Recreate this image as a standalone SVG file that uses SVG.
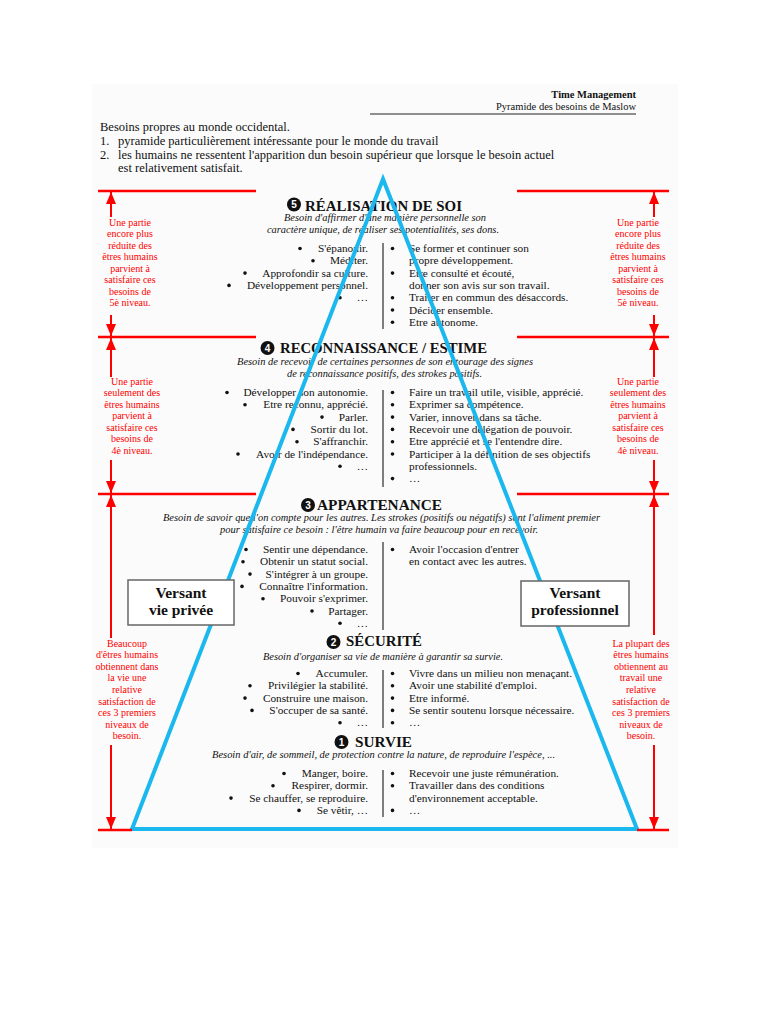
<svg xmlns="http://www.w3.org/2000/svg" width="768" height="1024" viewBox="0 0 768 1024">
<defs>
<marker id="ah" markerUnits="userSpaceOnUse" markerWidth="12" markerHeight="10" refX="12" refY="5" orient="auto">
<path d="M0,0 L12,5 L0,10 z" fill="#ff0000"/>
</marker>
<style>
text{font-family:"Liberation Serif","Times New Roman",serif;fill:#111}
.hd{font-size:10.5px;text-anchor:end}
.in{font-size:12.5px}
.it{font-size:11.3px}
.l{text-anchor:end}
.tt{font-size:14px;font-weight:bold}
.st{font-size:10px;font-style:italic;text-anchor:middle}
.num{font-family:"Liberation Sans",Arial,sans-serif;font-size:10px;font-weight:bold;fill:#fff;text-anchor:middle}
.rd{font-size:10px;fill:#ff0000;text-anchor:middle}
.vs{font-size:15.5px;font-weight:bold;text-anchor:middle}
.dv{stroke:#555;stroke-width:1.5}
.bl{fill:#111}
.rl{stroke:#ff0000;stroke-width:2.5;fill:none}
.ar{stroke:#ff0000;stroke-width:2;fill:none;marker-end:url(#ah)}
.box{fill:#fff;stroke:#666;stroke-width:1.5}
</style>
</defs>
<rect x="0" y="0" width="768" height="1024" fill="#ffffff"/>
<rect x="92" y="84" width="586" height="764" fill="#fbfbfb"/>

<g id="header">
<text class="hd" x="636" y="98" font-weight="bold">Time Management</text>
<text class="hd" x="636" y="110">Pyramide des besoins de Maslow</text>
<line x1="370" y1="114" x2="636" y2="114" stroke="#222" stroke-width="1.2"/>
<text class="in" x="100" y="131">Besoins propres au monde occidental.</text>
<text class="in" x="100" y="145">1.</text>
<text class="in" x="118" y="145">pyramide particulièrement intéressante pour le monde du travail</text>
<text class="in" x="100" y="159">2.</text>
<text class="in" x="118" y="159">les humains ne ressentent l'apparition dun besoin supérieur que lorsque le besoin actuel</text>
<text class="in" x="118" y="172">est relativement satisfait.</text>
</g>

<g id="level5">
<circle cx="294" cy="204.5" r="7" fill="#111"/>
<text class="num" x="294" y="208.2">5</text>
<text class="tt" x="305" y="211" textLength="157" lengthAdjust="spacingAndGlyphs">RÉALISATION DE SOI</text>
<text class="st" x="385" y="221" textLength="202" lengthAdjust="spacingAndGlyphs">Besoin d'affirmer d'une manière personnelle son</text>
<text class="st" x="383" y="233" textLength="232" lengthAdjust="spacingAndGlyphs">caractère unique, de réaliser ses potentialités, ses dons.</text>
<g class="it">
<text class="l" x="368" y="252">S'épanouir.</text>
<text class="l" x="368" y="264.3">Méditer.</text>
<text class="l" x="368" y="276.6">Approfondir sa culture.</text>
<text class="l" x="368" y="288.9">Développement personnel.</text>
<text class="l" x="368" y="301.2">…</text>
<text x="409" y="252">Se former et continuer son</text>
<text x="409" y="264.3">propre développement.</text>
<text x="409" y="276.6">Etre consulté et écouté,</text>
<text x="409" y="288.9">donner son avis sur son travail.</text>
<text x="409" y="301.2">Traiter en commun des désaccords.</text>
<text x="409" y="313.5">Décider ensemble.</text>
<text x="409" y="325.8">Etre autonome.</text>
</g>
<g class="bl">
<circle cx="300" cy="248.5" r="1.8"/><circle cx="313" cy="260.8" r="1.8"/><circle cx="245" cy="273.1" r="1.8"/><circle cx="229" cy="285.4" r="1.8"/><circle cx="340" cy="297.7" r="1.8"/>
<circle cx="392.5" cy="248.5" r="1.8"/><circle cx="392.5" cy="273.1" r="1.8"/><circle cx="392.5" cy="297.7" r="1.8"/><circle cx="392.5" cy="310" r="1.8"/><circle cx="392.5" cy="322.3" r="1.8"/>
</g>
<line class="dv" x1="383" y1="243" x2="383" y2="329"/>
</g>

<g id="level4">
<circle cx="267.5" cy="348" r="7" fill="#111"/>
<text class="num" x="267.5" y="351.7">4</text>
<text class="tt" x="280" y="353" textLength="207" lengthAdjust="spacingAndGlyphs">RECONNAISSANCE / ESTIME</text>
<text class="st" x="385" y="365" textLength="296" lengthAdjust="spacingAndGlyphs">Besoin de recevoir de certaines personnes de son entourage des signes</text>
<text class="st" x="384.5" y="377" textLength="195" lengthAdjust="spacingAndGlyphs">de reconnaissance positifs, des strokes positifs.</text>
<g class="it">
<text class="l" x="368" y="396">Développer son autonomie.</text>
<text class="l" x="368" y="408.3">Etre reconnu, apprécié.</text>
<text class="l" x="368" y="420.6">Parler.</text>
<text class="l" x="368" y="432.9">Sortir du lot.</text>
<text class="l" x="368" y="445.2">S'affranchir.</text>
<text class="l" x="368" y="457.5">Avoir de l'indépendance.</text>
<text class="l" x="368" y="469.8">…</text>
<text x="409" y="396">Faire un travail utile, visible, apprécié.</text>
<text x="409" y="408.3">Exprimer sa compétence.</text>
<text x="409" y="420.6">Varier, innover dans sa tâche.</text>
<text x="409" y="432.9">Recevoir une délégation de pouvoir.</text>
<text x="409" y="445.2">Etre apprécié et se l'entendre dire.</text>
<text x="409" y="457.5">Participer à la définition de ses objectifs</text>
<text x="409" y="469.8">professionnels.</text>
<text x="409" y="482.1">…</text>
</g>
<g class="bl">
<circle cx="227" cy="392.5" r="1.8"/><circle cx="245" cy="404.8" r="1.8"/><circle cx="322" cy="417.1" r="1.8"/><circle cx="293" cy="429.4" r="1.8"/><circle cx="297" cy="441.7" r="1.8"/><circle cx="238" cy="454" r="1.8"/><circle cx="340" cy="466.3" r="1.8"/>
<circle cx="392.5" cy="392.5" r="1.8"/><circle cx="392.5" cy="404.8" r="1.8"/><circle cx="392.5" cy="417.1" r="1.8"/><circle cx="392.5" cy="429.4" r="1.8"/><circle cx="392.5" cy="441.7" r="1.8"/><circle cx="392.5" cy="454" r="1.8"/><circle cx="392.5" cy="478.6" r="1.8"/>
</g>
<line class="dv" x1="383" y1="390" x2="383" y2="487"/>
</g>

<g id="level3">
<circle cx="308" cy="505" r="7" fill="#111"/>
<text class="num" x="308" y="508.7">3</text>
<text class="tt" x="317" y="510" textLength="125" lengthAdjust="spacingAndGlyphs">APPARTENANCE</text>
<text class="st" x="381.5" y="521" textLength="437" lengthAdjust="spacingAndGlyphs">Besoin de savoir que l'on compte pour les autres. Les strokes (positifs ou négatifs) sont l'aliment premier</text>
<text class="st" x="379" y="533" textLength="318" lengthAdjust="spacingAndGlyphs">pour satisfaire ce besoin : l'être humain va faire beaucoup pour en recevoir.</text>
<g class="it">
<text class="l" x="368" y="553">Sentir une dépendance.</text>
<text class="l" x="368" y="565.3">Obtenir un statut social.</text>
<text class="l" x="368" y="577.6">S'intégrer à un groupe.</text>
<text class="l" x="368" y="589.9">Connaître l'information.</text>
<text class="l" x="368" y="602.2">Pouvoir s'exprimer.</text>
<text class="l" x="368" y="614.5">Partager.</text>
<text class="l" x="368" y="626.8">…</text>
<text x="409" y="553">Avoir l'occasion d'entrer</text>
<text x="409" y="565.3">en contact avec les autres.</text>
</g>
<g class="bl">
<circle cx="246" cy="549.5" r="1.8"/><circle cx="243" cy="561.8" r="1.8"/><circle cx="250" cy="574.1" r="1.8"/><circle cx="242" cy="586.4" r="1.8"/><circle cx="263" cy="598.7" r="1.8"/><circle cx="312" cy="611" r="1.8"/><circle cx="340" cy="623.3" r="1.8"/>
<circle cx="392.5" cy="549.5" r="1.8"/>
</g>
<line class="dv" x1="383" y1="542" x2="383" y2="630"/>
</g>

<g id="level2">
<circle cx="333.5" cy="642" r="7" fill="#111"/>
<text class="num" x="333.5" y="645.7">2</text>
<text class="tt" x="346" y="646" textLength="76" lengthAdjust="spacingAndGlyphs">SÉCURITÉ</text>
<text class="st" x="383" y="660" textLength="240" lengthAdjust="spacingAndGlyphs">Besoin d'organiser sa vie de manière à garantir sa survie.</text>
<g class="it">
<text class="l" x="368" y="677">Accumuler.</text>
<text class="l" x="368" y="689.3">Privilégier la stabilité.</text>
<text class="l" x="368" y="701.6">Construire une maison.</text>
<text class="l" x="368" y="713.9">S'occuper de sa santé.</text>
<text class="l" x="368" y="726.2">…</text>
<text x="409" y="677">Vivre dans un milieu non menaçant.</text>
<text x="409" y="689.3">Avoir une stabilité d'emploi.</text>
<text x="409" y="701.6">Etre informé.</text>
<text x="409" y="713.9">Se sentir soutenu lorsque nécessaire.</text>
<text x="409" y="726.2">…</text>
</g>
<g class="bl">
<circle cx="298" cy="673.5" r="1.8"/><circle cx="250" cy="685.8" r="1.8"/><circle cx="245" cy="698.1" r="1.8"/><circle cx="252" cy="710.4" r="1.8"/><circle cx="340" cy="722.7" r="1.8"/>
<circle cx="392.5" cy="673.5" r="1.8"/><circle cx="392.5" cy="685.8" r="1.8"/><circle cx="392.5" cy="698.1" r="1.8"/><circle cx="392.5" cy="710.4" r="1.8"/><circle cx="392.5" cy="722.7" r="1.8"/>
</g>
<line class="dv" x1="383" y1="670" x2="383" y2="728"/>
</g>

<g id="level1">
<circle cx="341.5" cy="742" r="7" fill="#111"/>
<text class="num" x="341.5" y="745.7">1</text>
<text class="tt" x="355" y="747" textLength="57" lengthAdjust="spacingAndGlyphs">SURVIE</text>
<text class="st" x="383.5" y="758" textLength="343" lengthAdjust="spacingAndGlyphs">Besoin d'air, de sommeil, de protection contre la nature, de reproduire l'espèce, ...</text>
<g class="it">
<text class="l" x="368" y="777">Manger, boire.</text>
<text class="l" x="368" y="789.3">Respirer, dormir.</text>
<text class="l" x="368" y="801.6">Se chauffer, se reproduire.</text>
<text class="l" x="368" y="813.9">Se vêtir, …</text>
<text x="409" y="777">Recevoir une juste rémunération.</text>
<text x="409" y="789.3">Travailler dans des conditions</text>
<text x="409" y="801.6">d'environnement acceptable.</text>
<text x="409" y="813.9">…</text>
</g>
<g class="bl">
<circle cx="284" cy="773.5" r="1.8"/><circle cx="273" cy="785.8" r="1.8"/><circle cx="231" cy="798.1" r="1.8"/><circle cx="299" cy="810.4" r="1.8"/>
<circle cx="392.5" cy="773.5" r="1.8"/><circle cx="392.5" cy="785.8" r="1.8"/><circle cx="392.5" cy="810.4" r="1.8"/>
</g>
<line class="dv" x1="383" y1="770" x2="383" y2="817"/>
</g>

<g id="pyramid">
<polygon points="383,179 637,829 132,829" fill="none" stroke="#1ab8ee" stroke-width="4" stroke-linejoin="miter"/>
</g>

<g id="versant-prive">
<rect class="box" x="128" y="580" width="106" height="45"/>
<text class="vs" x="181" y="598">Versant</text>
<text class="vs" x="181" y="615">vie privée</text>
</g>
<g id="versant-pro">
<rect class="box" x="521" y="581" width="108" height="45"/>
<text class="vs" x="575" y="598">Versant</text>
<text class="vs" x="575" y="615">professionnel</text>
</g>

<g id="red-lines">
<line class="rl" x1="98" y1="191" x2="256" y2="191"/>
<line class="rl" x1="517" y1="191" x2="669" y2="191"/>
<line class="rl" x1="98" y1="337" x2="256" y2="337"/>
<line class="rl" x1="517" y1="337" x2="669" y2="337"/>
<line class="rl" x1="98" y1="494" x2="256" y2="494"/>
<line class="rl" x1="517" y1="494" x2="669" y2="494"/>
<line class="rl" x1="98" y1="830" x2="132" y2="830"/>
<line class="rl" x1="637" y1="830" x2="669" y2="830"/>
</g>

<g id="arrows">
<line class="ar" x1="111" y1="217" x2="111" y2="192"/>
<line class="ar" x1="111" y1="315" x2="111" y2="336"/>
<line class="ar" x1="111" y1="377" x2="111" y2="338"/>
<line class="ar" x1="111" y1="460" x2="111" y2="493"/>
<line class="ar" x1="111" y1="638" x2="111" y2="495"/>
<line class="ar" x1="111" y1="745" x2="111" y2="829"/>
<line class="ar" x1="654" y1="217" x2="654" y2="192"/>
<line class="ar" x1="654" y1="315" x2="654" y2="336"/>
<line class="ar" x1="654" y1="377" x2="654" y2="338"/>
<line class="ar" x1="654" y1="460" x2="654" y2="493"/>
<line class="ar" x1="654" y1="635" x2="654" y2="495"/>
<line class="ar" x1="654" y1="745" x2="654" y2="829"/>
</g>

<g id="note-left-5">
<text class="rd" x="130" y="225.5">Une partie</text>
<text class="rd" x="130" y="237">encore plus</text>
<text class="rd" x="130" y="248.5">réduite des</text>
<text class="rd" x="130" y="260">êtres humains</text>
<text class="rd" x="130" y="271.5">parvient à</text>
<text class="rd" x="130" y="283">satisfaire ces</text>
<text class="rd" x="130" y="294.5">besoins de</text>
<text class="rd" x="130" y="306">5è niveau.</text>
</g>
<g id="note-right-5">
<text class="rd" x="638" y="225.5">Une partie</text>
<text class="rd" x="638" y="237">encore plus</text>
<text class="rd" x="638" y="248.5">réduite des</text>
<text class="rd" x="638" y="260">êtres humains</text>
<text class="rd" x="638" y="271.5">parvient à</text>
<text class="rd" x="638" y="283">satisfaire ces</text>
<text class="rd" x="638" y="294.5">besoins de</text>
<text class="rd" x="638" y="306">5è niveau.</text>
</g>
<g id="note-left-4">
<text class="rd" x="132" y="384.5">Une partie</text>
<text class="rd" x="132" y="396">seulement des</text>
<text class="rd" x="132" y="407.5">êtres humains</text>
<text class="rd" x="132" y="419">parvient à</text>
<text class="rd" x="132" y="430.5">satisfaire ces</text>
<text class="rd" x="132" y="442">besoins de</text>
<text class="rd" x="132" y="453.5">4è niveau.</text>
</g>
<g id="note-right-4">
<text class="rd" x="638" y="384.5">Une partie</text>
<text class="rd" x="638" y="396">seulement des</text>
<text class="rd" x="638" y="407.5">êtres humains</text>
<text class="rd" x="638" y="419">parvient à</text>
<text class="rd" x="638" y="430.5">satisfaire ces</text>
<text class="rd" x="638" y="442">besoins de</text>
<text class="rd" x="638" y="453.5">4è niveau.</text>
</g>
<g id="note-left-123">
<text class="rd" x="127" y="646.5">Beaucoup</text>
<text class="rd" x="127" y="658.1">d'êtres humains</text>
<text class="rd" x="127" y="669.7">obtiennent dans</text>
<text class="rd" x="127" y="681.3">la vie une</text>
<text class="rd" x="127" y="692.9">relative</text>
<text class="rd" x="127" y="704.5">satisfaction de</text>
<text class="rd" x="127" y="716.1">ces 3 premiers</text>
<text class="rd" x="127" y="727.7">niveaux de</text>
<text class="rd" x="127" y="739.3">besoin.</text>
</g>
<g id="note-right-123">
<text class="rd" x="641" y="646.5">La plupart des</text>
<text class="rd" x="641" y="658.1">êtres humains</text>
<text class="rd" x="641" y="669.7">obtiennent au</text>
<text class="rd" x="641" y="681.3">travail une</text>
<text class="rd" x="641" y="692.9">relative</text>
<text class="rd" x="641" y="704.5">satisfaction de</text>
<text class="rd" x="641" y="716.1">ces 3 premiers</text>
<text class="rd" x="641" y="727.7">niveaux de</text>
<text class="rd" x="641" y="739.3">besoin.</text>
</g>
</svg>
